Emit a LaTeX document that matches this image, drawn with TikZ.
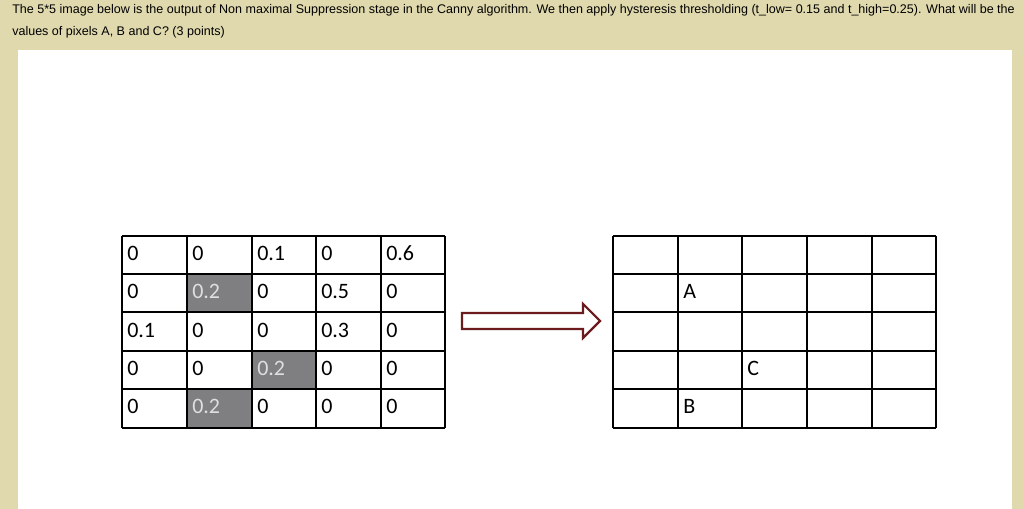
\documentclass[tikz,border=0pt]{standalone}
\usepackage{fontspec}
\setmainfont{Liberation Sans}
\newfontfamily\cellfont{Carlito}
\definecolor{beige}{HTML}{E0D9AE}
\definecolor{cellgray}{HTML}{7F7F82}
\definecolor{arrowred}{HTML}{6B1A1E}
\begin{document}
\begin{tikzpicture}[x=0.75pt,y=-0.75pt,
  hdr/.style={anchor=base west,inner sep=0,font=\fontsize{9.4}{11}\selectfont},
  val/.style={anchor=west,inner sep=0,font=\cellfont\fontsize{16.5}{18}\selectfont},
  gval/.style={val,text=gray!25},
  gline/.style={line width=0.8pt}]
\fill[beige] (0,0) rectangle (1024,509);
\fill[white] (18,50) rectangle (1012,509);
\useasboundingbox (0,0) rectangle (1024,509);
\node[hdr] (t1) at (12,14) {The 5*5 image below is the output of Non maximal Suppression stage in the Canny algorithm. We then apply hysteresis thresholding (t\_low= 0.15 and t\_high=0.25). What will be the};
\node[hdr] (t2) at (12,36) {values of pixels A, B and C? (3 points)};
% gray cells
\fill[cellgray] (187,274) rectangle (252,312);
\fill[cellgray] (252,351) rectangle (316,389);
\fill[cellgray] (187,389) rectangle (252,428);
% grids
\foreach \x in {122,187,252,316,381,445} \draw[gline] (\x,236) -- (\x,428);
\foreach \y in {236,274,312,351,389,428} \draw[gline] (122,\y) -- (445,\y);
\foreach \x in {613,678,742,807,872,936} \draw[gline] (\x,236) -- (\x,428);
\foreach \y in {236,274,312,351,389,428} \draw[gline] (613,\y) -- (936,\y);
% values
\def\cx{{127,192,257,321,386}}
\def\ry{{253,291,330,368,406}}
\foreach \r/\c/\v in {0/0/0,0/1/0,0/2/0.1,0/3/0,0/4/0.6,
 1/0/0,1/2/0,1/3/0.5,1/4/0,
 2/0/0.1,2/1/0,2/2/0,2/3/0.3,2/4/0,
 3/0/0,3/1/0,3/3/0,3/4/0,
 4/0/0,4/2/0,4/3/0,4/4/0}
 \node[val] (v\r\c) at ({\cx[\c]},{\ry[\r]}) {\v};
\node[gval] (v11) at (192,291) {0.2};
\node[gval] (v32) at (257,368) {0.2};
\node[gval] (v41) at (192,406) {0.2};
\node[val] (A) at (683,291) {A};
\node[val] (B) at (683,406) {B};
\node[val] (C) at (747,368) {C};
% arrow
\draw[arrowred,line width=1.6pt,line join=miter,fill=white]
 (462,313) -- (583,313) -- (583,304) -- (600,321) -- (583,338) -- (583,329) -- (462,329) -- cycle;
\end{tikzpicture}
\end{document}
